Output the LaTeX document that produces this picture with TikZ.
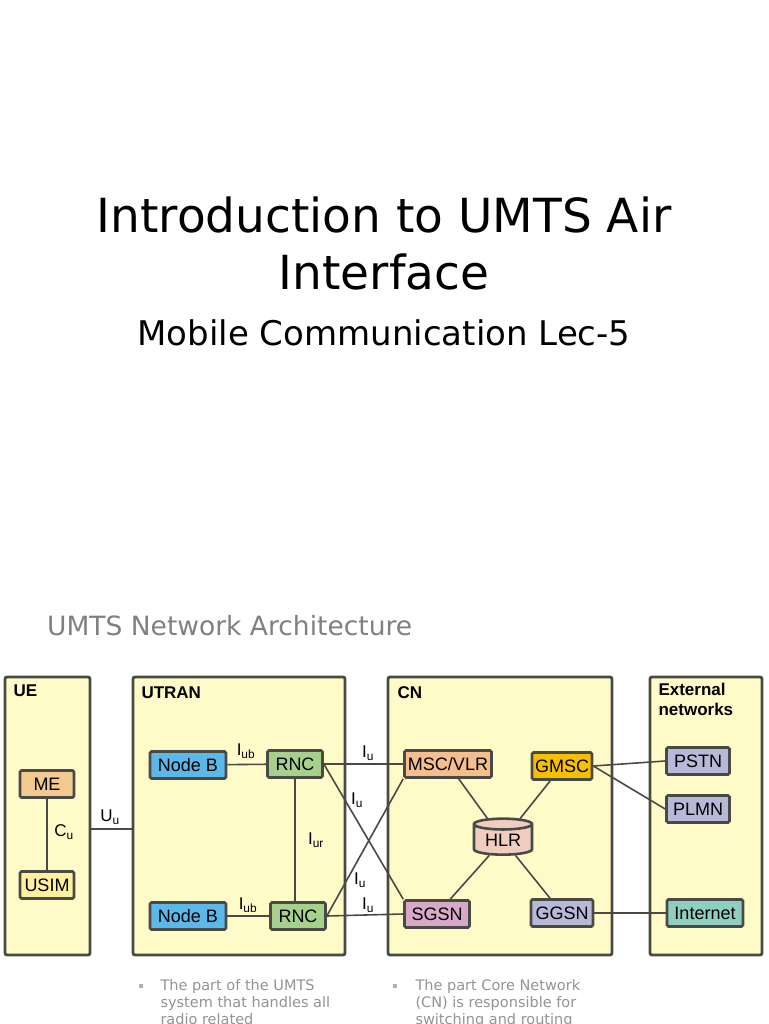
\documentclass[tikz,border=0pt]{standalone}
\usepackage{fontspec}
\setmainfont{DejaVu Sans}
\newfontfamily\arialf{Liberation Sans}
\usetikzlibrary{shapes.geometric}
\definecolor{panel}{HTML}{FFFBC8}
\definecolor{edge}{HTML}{4A4A45}
\begin{document}
\begin{tikzpicture}[x=1pt,y=-1pt,
  grp/.style={draw=edge,line width=2.8pt,fill=panel,rounded corners=2pt},
  nd/.style={draw=edge,line width=2.6pt,rounded corners=1.5pt,font=\arialf\fontsize{18}{18}\selectfont,inner sep=0pt,minimum height=27pt},
  ln/.style={draw=edge,line width=1.6pt},
  lb/.style={font=\arialf\fontsize{17}{17}\selectfont,text=black},
  gt/.style={font=\arialf\bfseries\fontsize{17}{20}\selectfont,anchor=north west,align=left},
  bul/.style={font=\fontsize{14.5}{17}\selectfont,text=gray!85,anchor=north west,align=left},
  dot/.style={fill=gray!60,inner sep=0pt,minimum size=4pt}]
\useasboundingbox (0,0) rectangle (768,1024);
\clip (0,0) rectangle (768,1024);
\node (t1) at (384,215) {\fontsize{47}{52}\selectfont Introduction to UMTS Air};
\node (t2) at (384,272) {\fontsize{47}{52}\selectfont Interface};
\node (t3) at (384,333) {\fontsize{34}{38}\selectfont Mobile Communication Lec-5};
\node[anchor=west,text=gray,inner sep=0pt] (h) at (47,626) {\fontsize{26.5}{30}\selectfont UMTS Network Architecture};
% groups
\draw[grp] (5,677) rectangle (90,955);
\draw[grp] (133,677) rectangle (345,955);
\draw[grp] (388,677) rectangle (612,955);
\draw[grp] (650,677) rectangle (762,955);
\node[gt] (gue) at (10,681) {UE};
\node[gt] (gut) at (138,683) {UTRAN};
\node[gt] (gcn) at (394,683) {CN};
\node[gt] (gex) at (655,680) {External\\networks};
% nodes
\node[nd,fill={rgb,255:red,242;green,201;blue,142},minimum width=54pt] (me) at (47,784) {ME};
\node[nd,fill={rgb,255:red,255;green,240;blue,160},minimum width=54pt] (usim) at (47,885) {USIM};
\node[nd,fill={rgb,255:red,91;green,184;blue,232},minimum width=76pt] (nb1) at (188,765) {Node B};
\node[nd,fill={rgb,255:red,168;green,208;blue,141},minimum width=55pt] (rnc1) at (295,764) {RNC};
\node[nd,fill={rgb,255:red,91;green,184;blue,232},minimum width=76pt] (nb2) at (188,916) {Node B};
\node[nd,fill={rgb,255:red,168;green,208;blue,141},minimum width=55pt] (rnc2) at (298,916) {RNC};
\node[nd,fill={rgb,255:red,245;green,190;blue,143},minimum width=87pt] (msc) at (448,764) {MSC/VLR};
\node[nd,fill={rgb,255:red,245;green,192;blue,0},minimum width=60pt] (gmsc) at (562,766) {GMSC};
\node[nd,shape=cylinder,shape border rotate=90,aspect=0.3,fill={rgb,255:red,240;green,205;blue,190},minimum width=58pt,minimum height=36pt,rounded corners=0pt] (hlr) at (503,840) {HLR};
\node[nd,fill={rgb,255:red,216;green,168;blue,200},minimum width=65pt] (sgsn) at (437,914) {SGSN};
\node[nd,fill={rgb,255:red,184;green,184;blue,216},minimum width=62pt] (ggsn) at (562,913) {GGSN};
\node[nd,fill={rgb,255:red,184;green,184;blue,216},minimum width=63pt] (pstn) at (698,761) {PSTN};
\node[nd,fill={rgb,255:red,184;green,184;blue,216},minimum width=63pt] (plmn) at (698,809) {PLMN};
\node[nd,fill={rgb,255:red,143;green,207;blue,192},minimum width=76pt] (inet) at (705,913) {Internet};
% connectors
\coordinate (ueR) at (90,829); \coordinate (utL) at (133,829);
\draw[ln] (ueR) -- (utL);
\draw[ln] (me) -- (usim);
\draw[ln] (nb1) -- (rnc1);
\draw[ln] (nb2) -- (rnc2);
\draw[ln] (rnc1.south) -- (rnc1.south |- rnc2.north);
\draw[ln] (rnc1.east) -- (msc.west);
\draw[ln] (rnc2.east) -- (sgsn.west);
\draw[ln] (rnc1.east) -- (sgsn.north west);
\draw[ln] (rnc2.east) -- (msc.south west);
\draw[ln] (msc) -- (hlr);
\draw[ln] (gmsc) -- (hlr);
\draw[ln] (hlr) -- (sgsn);
\draw[ln] (hlr) -- (ggsn);
\draw[ln] (gmsc.east) -- (pstn.west);
\draw[ln] (gmsc.east) -- (plmn.west);
\draw[ln] (ggsn) -- (inet);
% labels
\node[lb] (luu) at (110,817) {U\textsubscript{u}};
\node[lb] (lcu) at (64,832) {C\textsubscript{u}};
\node[lb] (liub1) at (246,751) {I\textsubscript{ub}};
\node[lb] (liub2) at (248,905) {I\textsubscript{ub}};
\node[lb] (liur) at (316,840) {I\textsubscript{ur}};
\node[lb] (liu1) at (368,753) {I\textsubscript{u}};
\node[lb] (liu2) at (357,800) {I\textsubscript{u}};
\node[lb] (liu3) at (360,880) {I\textsubscript{u}};
\node[lb] (liu4) at (368,905) {I\textsubscript{u}};
% bullets
\node[bul] (b1) at (157,976) {The part of the UMTS\\system that handles all\\radio related};
\node[bul] (b2) at (412,976) {The part Core Network\\(CN) is responsible for\\switching and routing};
\node[dot] (d1) at (141,986) {};
\node[dot] (d2) at (395,986) {};
\end{tikzpicture}
\end{document}
